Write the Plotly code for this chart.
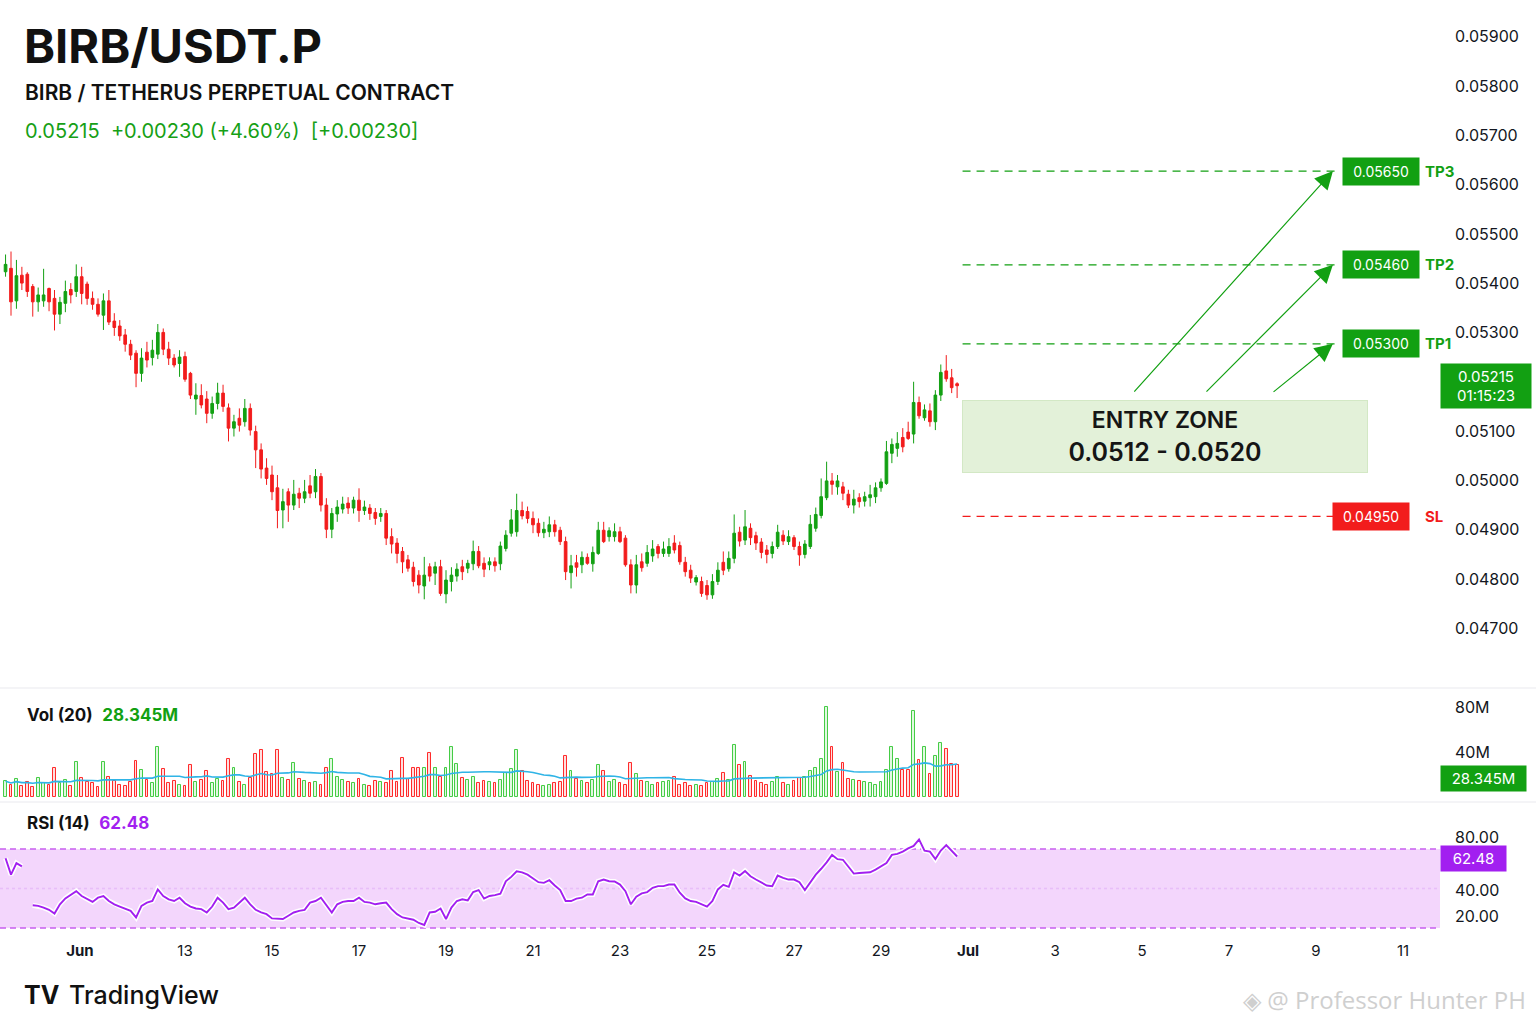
import pandas as pd
import plotly.graph_objects as go
from plotly.subplots import make_subplots

# 3h candles, BIRB/USDT perpetual
start_time = "2025-06-08 21:00"

opens = [
    0.05446, 0.05453, 0.05387, 0.05439, 0.05441, 0.05416, 0.05385, 0.05387, 0.05412, 0.05392,
    0.05360, 0.05382, 0.05410, 0.05406, 0.05436, 0.05421, 0.05392, 0.05380, 0.05358, 0.05387,
    0.05346, 0.05336, 0.05318, 0.05299, 0.05281, 0.05240, 0.05283, 0.05272, 0.05279, 0.05323,
    0.05289, 0.05271, 0.05260, 0.05274, 0.05240, 0.05188, 0.05195, 0.05188, 0.05159, 0.05179,
    0.05200, 0.05170, 0.05129, 0.05149, 0.05142, 0.05169, 0.05122, 0.05085, 0.05048, 0.05034,
    0.05008, 0.04963, 0.05000, 0.04973, 0.04997, 0.04987, 0.05012, 0.05000, 0.05031, 0.04973,
    0.04924, 0.04955, 0.04965, 0.04977, 0.04967, 0.04983, 0.04962, 0.04967, 0.04958, 0.04950,
    0.04956, 0.04909, 0.04896, 0.04879, 0.04862, 0.04847, 0.04831, 0.04809, 0.04848, 0.04835,
    0.04848, 0.04793, 0.04818, 0.04829, 0.04848, 0.04845, 0.04854, 0.04879, 0.04855, 0.04852,
    0.04858, 0.04854, 0.04885, 0.04916, 0.04919, 0.04962, 0.04960, 0.04946, 0.04936, 0.04917,
    0.04919, 0.04933, 0.04922, 0.04899, 0.04836, 0.04856, 0.04852, 0.04867, 0.04854, 0.04875,
    0.04922, 0.04909, 0.04909, 0.04919, 0.04906, 0.04852, 0.04811, 0.04858, 0.04855, 0.04870,
    0.04889, 0.04875, 0.04875, 0.04896, 0.04891, 0.04857, 0.04841, 0.04817, 0.04818, 0.04810,
    0.04791, 0.04818, 0.04857, 0.04844, 0.04865, 0.04918, 0.04902, 0.04926, 0.04911, 0.04898,
    0.04882, 0.04875, 0.04889, 0.04912, 0.04899, 0.04907, 0.04889, 0.04873, 0.04889, 0.04926,
    0.04952, 0.04988, 0.05022, 0.05010, 0.05010, 0.04995, 0.04973, 0.04988, 0.04981, 0.04988,
    0.04990, 0.05008, 0.05017, 0.05078, 0.05088, 0.05110, 0.05121, 0.05117, 0.05181, 0.05150,
    0.05164, 0.05142, 0.05196, 0.05245, 0.05231, 0.05219,
]

highs = [
    0.05481, 0.05487, 0.05470, 0.05456, 0.05445, 0.05421, 0.05414, 0.05452, 0.05414, 0.05409,
    0.05395, 0.05428, 0.05423, 0.05461, 0.05456, 0.05426, 0.05406, 0.05392, 0.05402, 0.05409,
    0.05362, 0.05348, 0.05330, 0.05308, 0.05287, 0.05291, 0.05304, 0.05308, 0.05340, 0.05331,
    0.05304, 0.05279, 0.05287, 0.05284, 0.05243, 0.05220, 0.05218, 0.05204, 0.05193, 0.05221,
    0.05217, 0.05179, 0.05156, 0.05169, 0.05188, 0.05179, 0.05134, 0.05098, 0.05068, 0.05053,
    0.05034, 0.05006, 0.05007, 0.05024, 0.05008, 0.05024, 0.05034, 0.05046, 0.05038, 0.04987,
    0.04967, 0.04983, 0.04990, 0.04989, 0.04990, 0.05007, 0.04982, 0.04975, 0.04967, 0.04967,
    0.04963, 0.04926, 0.04906, 0.04888, 0.04872, 0.04858, 0.04841, 0.04868, 0.04855, 0.04858,
    0.04862, 0.04841, 0.04847, 0.04855, 0.04862, 0.04862, 0.04901, 0.04890, 0.04867, 0.04867,
    0.04867, 0.04899, 0.04922, 0.04965, 0.04996, 0.04980, 0.04970, 0.04960, 0.04946, 0.04939,
    0.04950, 0.04943, 0.04929, 0.04909, 0.04872, 0.04872, 0.04879, 0.04875, 0.04889, 0.04939,
    0.04939, 0.04928, 0.04936, 0.04929, 0.04912, 0.04863, 0.04872, 0.04875, 0.04892, 0.04902,
    0.04894, 0.04899, 0.04906, 0.04912, 0.04899, 0.04868, 0.04852, 0.04831, 0.04828, 0.04821,
    0.04833, 0.04857, 0.04879, 0.04879, 0.04954, 0.04929, 0.04963, 0.04936, 0.04919, 0.04906,
    0.04892, 0.04899, 0.04933, 0.04922, 0.04922, 0.04912, 0.04899, 0.04902, 0.04953, 0.04968,
    0.05027, 0.05061, 0.05038, 0.05034, 0.05020, 0.05004, 0.05004, 0.04997, 0.05000, 0.05014,
    0.05019, 0.05027, 0.05103, 0.05108, 0.05121, 0.05129, 0.05142, 0.05223, 0.05193, 0.05177,
    0.05179, 0.05206, 0.05258, 0.05277, 0.05249, 0.05222,
]

lows = [
    0.05436, 0.05357, 0.05371, 0.05409, 0.05395, 0.05355, 0.05365, 0.05375, 0.05366, 0.05327,
    0.05340, 0.05364, 0.05382, 0.05395, 0.05380, 0.05379, 0.05369, 0.05355, 0.05328, 0.05338,
    0.05316, 0.05306, 0.05284, 0.05267, 0.05212, 0.05223, 0.05252, 0.05256, 0.05269, 0.05277,
    0.05257, 0.05252, 0.05233, 0.05223, 0.05188, 0.05156, 0.05169, 0.05139, 0.05148, 0.05167,
    0.05162, 0.05102, 0.05112, 0.05122, 0.05132, 0.05114, 0.05048, 0.05027, 0.05014, 0.04983,
    0.04926, 0.04926, 0.04939, 0.04963, 0.04967, 0.04977, 0.04987, 0.04987, 0.04960, 0.04906,
    0.04906, 0.04939, 0.04956, 0.04955, 0.04956, 0.04939, 0.04953, 0.04943, 0.04933, 0.04939,
    0.04892, 0.04875, 0.04855, 0.04835, 0.04838, 0.04808, 0.04794, 0.04782, 0.04818, 0.04811,
    0.04789, 0.04774, 0.04798, 0.04818, 0.04821, 0.04835, 0.04841, 0.04845, 0.04827, 0.04841,
    0.04838, 0.04841, 0.04879, 0.04909, 0.04909, 0.04944, 0.04936, 0.04916, 0.04909, 0.04906,
    0.04908, 0.04909, 0.04892, 0.04821, 0.04804, 0.04828, 0.04835, 0.04852, 0.04838, 0.04872,
    0.04896, 0.04899, 0.04899, 0.04896, 0.04848, 0.04794, 0.04794, 0.04838, 0.04848, 0.04858,
    0.04865, 0.04868, 0.04868, 0.04875, 0.04852, 0.04828, 0.04815, 0.04810, 0.04787, 0.04781,
    0.04783, 0.04811, 0.04831, 0.04838, 0.04855, 0.04889, 0.04892, 0.04892, 0.04882, 0.04865,
    0.04855, 0.04865, 0.04884, 0.04892, 0.04892, 0.04882, 0.04850, 0.04865, 0.04884, 0.04919,
    0.04946, 0.04983, 0.04994, 0.04994, 0.04983, 0.04967, 0.04956, 0.04968, 0.04970, 0.04970,
    0.04977, 0.05000, 0.05014, 0.05058, 0.05071, 0.05080, 0.05105, 0.05098, 0.05148, 0.05144,
    0.05132, 0.05125, 0.05184, 0.05223, 0.05200, 0.05190,
]

closes = [
    0.05461, 0.05385, 0.05438, 0.05423, 0.05406, 0.05385, 0.05399, 0.05399, 0.05385, 0.05360,
    0.05384, 0.05406, 0.05399, 0.05436, 0.05402, 0.05392, 0.05380, 0.05360, 0.05387, 0.05344,
    0.05333, 0.05316, 0.05299, 0.05277, 0.05240, 0.05271, 0.05267, 0.05287, 0.05323, 0.05289,
    0.05271, 0.05257, 0.05273, 0.05228, 0.05196, 0.05196, 0.05176, 0.05159, 0.05179, 0.05200,
    0.05173, 0.05129, 0.05142, 0.05135, 0.05169, 0.05125, 0.05085, 0.05046, 0.05027, 0.05000,
    0.04962, 0.04980, 0.04973, 0.04995, 0.04987, 0.05000, 0.04997, 0.05031, 0.04973, 0.04924,
    0.04956, 0.04969, 0.04975, 0.04967, 0.04983, 0.04962, 0.04969, 0.04956, 0.04946, 0.04956,
    0.04906, 0.04894, 0.04875, 0.04858, 0.04845, 0.04818, 0.04811, 0.04831, 0.04829, 0.04848,
    0.04794, 0.04821, 0.04831, 0.04843, 0.04838, 0.04855, 0.04879, 0.04850, 0.04843, 0.04858,
    0.04850, 0.04890, 0.04912, 0.04943, 0.04962, 0.04951, 0.04946, 0.04933, 0.04917, 0.04924,
    0.04933, 0.04919, 0.04899, 0.04838, 0.04850, 0.04847, 0.04867, 0.04855, 0.04877, 0.04922,
    0.04899, 0.04921, 0.04919, 0.04899, 0.04852, 0.04811, 0.04852, 0.04846, 0.04877, 0.04884,
    0.04875, 0.04884, 0.04889, 0.04882, 0.04858, 0.04838, 0.04825, 0.04826, 0.04794, 0.04791,
    0.04818, 0.04841, 0.04841, 0.04865, 0.04916, 0.04900, 0.04929, 0.04907, 0.04896, 0.04877,
    0.04873, 0.04889, 0.04918, 0.04900, 0.04909, 0.04889, 0.04872, 0.04894, 0.04934, 0.04954,
    0.04990, 0.05022, 0.05015, 0.05022, 0.04997, 0.04973, 0.04985, 0.04980, 0.04990, 0.04994,
    0.05008, 0.05020, 0.05081, 0.05096, 0.05098, 0.05091, 0.05108, 0.05181, 0.05154, 0.05166,
    0.05142, 0.05196, 0.05242, 0.05229, 0.05211, 0.05215,
]

# volume in millions
volume_m = [
    14, 11, 16, 10, 13, 9, 17, 12, 11, 26,
    12, 15, 10, 31, 17, 13, 12, 9, 31, 18,
    14, 11, 10, 13, 32, 24, 15, 12, 44, 25,
    12, 14, 11, 10, 28, 13, 15, 23, 12, 16,
    14, 34, 26, 13, 11, 17, 38, 42, 22, 20,
    42, 17, 15, 30, 16, 14, 12, 13, 11, 26,
    34, 18, 15, 13, 12, 16, 11, 10, 14, 13,
    12, 23, 13, 35, 16, 26, 26, 26, 39, 26,
    18, 26, 44, 29, 17, 15, 18, 12, 14, 13,
    12, 15, 21, 25, 42, 23, 14, 12, 11, 10,
    11, 12, 13, 36, 23, 16, 14, 12, 15, 28,
    23, 13, 15, 12, 11, 30, 20, 14, 13, 11,
    12, 13, 14, 18, 11, 12, 10, 11, 10, 12,
    13, 16, 21, 15, 46, 28, 31, 19, 14, 12,
    11, 13, 18, 12, 11, 14, 17, 18, 23, 26,
    34, 80, 44, 22, 30, 16, 15, 14, 13, 12,
    11, 13, 24, 44, 34, 24, 24, 76, 33, 44,
    20, 36, 48, 43, 29, 28.345,
]

rsi = [
    73.0, 60.5, 69.3, 66.8, None, 37.3, 36.8, 35.5, 33.8, 31.0,
    38.0, 42.5, 45.5, 48.0, 44.3, 41.8, 39.8, 43.0, 44.3, 40.5,
    38.0, 36.3, 34.8, 33.0, 28.0, 36.8, 39.3, 40.5, 49.3, 44.3,
    41.8, 40.5, 43.0, 38.8, 36.3, 34.8, 34.3, 31.8, 36.3, 43.0,
    39.3, 34.3, 35.5, 39.3, 43.0, 38.0, 33.8, 31.8, 30.5, 27.3,
    26.8, 26.8, 29.3, 31.8, 33.0, 33.8, 39.3, 40.5, 43.0, 37.3,
    31.8, 38.0, 39.8, 40.5, 40.5, 43.0, 39.8, 39.3, 38.0, 38.8,
    39.3, 34.3, 30.5, 28.0, 27.3, 26.3, 23.8, 22.3, 31.8, 32.3,
    34.8, 26.8, 35.5, 40.5, 41.8, 41.0, 47.3, 48.8, 42.3, 44.3,
    45.0, 46.0, 55.5, 58.8, 63.0, 62.3, 60.5, 57.5, 54.8, 54.3,
    56.3, 52.3, 48.8, 40.5, 40.5, 42.3, 43.0, 45.5, 45.5, 55.5,
    56.8, 55.5, 55.3, 53.0, 48.0, 38.0, 43.8, 46.3, 47.3, 50.5,
    51.8, 51.8, 53.0, 53.0, 46.8, 42.5, 40.5, 39.8, 38.0, 36.3,
    40.5, 49.3, 52.8, 51.3, 62.3, 59.8, 63.3, 59.3, 56.8, 54.3,
    52.3, 51.8, 59.8, 58.0, 56.8, 56.8, 54.8, 48.8, 54.3, 60.5,
    65.0, 69.8, 75.5, 72.3, 71.8, 66.8, 61.3, 61.8, 62.3, 62.3,
    64.3, 66.8, 69.3, 75.5, 76.3, 78.0, 80.5, 82.3, 87.3, 78.8,
    78.0, 72.3, 78.8, 83.0, 78.8, 74.3,
]
rsi_last = 62.48

# trade plan
level_names = ["TP3", "TP2", "TP1", "SL"]
level_values = [0.05650, 0.05460, 0.05300, 0.04950]
entry_low, entry_high = 0.0512, 0.0520
last_price = 0.05215

# axis labels (0.05200 sits under the price tag)
price_ticks = [0.047, 0.048, 0.049, 0.050, 0.051, 0.053, 0.054, 0.055, 0.056, 0.057, 0.058, 0.059]
tick_dates = ["2025-06-10 14:00", "2025-06-13", "2025-06-15", "2025-06-17", "2025-06-19",
              "2025-06-21", "2025-06-23", "2025-06-25", "2025-06-27", "2025-06-29",
              "2025-07-01", "2025-07-03", "2025-07-05", "2025-07-07", "2025-07-09", "2025-07-11"]
tick_text = ["<b>Jun</b>", "13", "15", "17", "19", "21", "23", "25", "27", "29",
             "<b>Jul</b>", "3", "5", "7", "9", "11"]

GREEN = "#12a012"
RED = "#f21c1c"
PURPLE = "#a21ff0"
TEXT = "#131722"
FONT = "Inter"

times = pd.date_range(start_time, periods=len(closes), freq="3h")
is_up = [c >= o for o, c in zip(opens, closes)]
vol_ma = pd.Series(volume_m).rolling(20, min_periods=1).mean()

fig = make_subplots(rows=3, cols=1, shared_xaxes=True, vertical_spacing=0.005)

fig.add_trace(go.Candlestick(
    x=times, open=opens, high=highs, low=lows, close=closes,
    increasing=dict(line=dict(color=GREEN, width=1), fillcolor=GREEN),
    decreasing=dict(line=dict(color=RED, width=1), fillcolor=RED),
    whiskerwidth=0, showlegend=False, hoverinfo="skip"), row=1, col=1)

fig.add_trace(go.Bar(
    x=times, y=volume_m, width=5.6e6,
    marker=dict(color=["rgba(90,215,90,0.18)" if u else "rgba(255,70,70,0.18)" for u in is_up],
                line=dict(color=["#45cc45" if u else "#ff2b2b" for u in is_up], width=1)),
    showlegend=False, hoverinfo="skip"), row=2, col=1)
fig.add_trace(go.Scatter(x=times, y=vol_ma, mode="lines", line=dict(color="#2fb4e6", width=1.6),
                         showlegend=False, hoverinfo="skip"), row=2, col=1)

# rsi band
fig.add_shape(type="rect", xref="x3 domain", yref="y3", x0=0, x1=1, y0=20, y1=80,
              fillcolor="rgba(214,120,246,0.30)", line_width=0, layer="below")
for lvl, dash, col in [(80, "6px,4px", "#c95ff0"), (20, "6px,4px", "#c95ff0"),
                       (50, "dot", "rgba(200,120,240,0.25)")]:
    fig.add_shape(type="line", xref="x3 domain", yref="y3", x0=0, x1=1, y0=lvl, y1=lvl,
                  line=dict(color=col, width=1.3, dash=dash), layer="below")

fig.add_trace(go.Scatter(x=times, y=rsi, mode="lines", line=dict(color="white", width=5),
                         connectgaps=False, showlegend=False, hoverinfo="skip"), row=3, col=1)
fig.add_trace(go.Scatter(x=times, y=rsi, mode="lines", line=dict(color=PURPLE, width=1.9),
                         connectgaps=False, showlegend=False, hoverinfo="skip"), row=3, col=1)

# trade levels
line_start, line_end = "2025-06-30 21:00", "2025-07-09 13:00"
arrow_tails = {"TP3": "2025-07-04 19:00", "TP2": "2025-07-06 10:45", "TP1": "2025-07-07 23:45"}
annotations = []
for name, val in zip(level_names, level_values):
    col = RED if name == "SL" else GREEN
    fig.add_shape(type="line", xref="x", yref="y", x0=line_start, x1=line_end, y0=val, y1=val,
                  line=dict(color=col, width=1.3, dash="8px,6px"))
    box_x = "2025-07-10 06:30" if name == "SL" else "2025-07-10 12:00"
    annotations.append(dict(x=box_x, y=val, xref="x", yref="y", text=f"{val:.5f}", showarrow=False,
                            bgcolor=col, font=dict(color="white", size=14, family=FONT),
                            borderpad=5, width=66))
    annotations.append(dict(x="2025-07-11 11:00", y=val, xref="x", yref="y", text=f"<b>{name}</b>",
                            showarrow=False, xanchor="left", font=dict(color=col, size=15, family=FONT)))
    if name in arrow_tails:
        annotations.append(dict(x="2025-07-09 09:20", y=val, xref="x", yref="y",
                                ax=arrow_tails[name], ay=entry_high, axref="x", ayref="y",
                                showarrow=True, arrowhead=2, arrowsize=3, arrowwidth=1.2,
                                arrowcolor=GREEN, text=""))

annotations.append(dict(
    x="2025-07-05 12:40", y=entry_low, xref="x", yref="y", showarrow=False, yshift=-4,
    text=f"<span style='font-size:23px'>ENTRY ZONE</span><br>{entry_low:.4f} - {entry_high:.4f}",
    font=dict(size=25, color="#151515", family=FONT, weight=600),
    bgcolor="#e3f1d9", bordercolor="#d3e8c5", borderwidth=1, borderpad=0,
    width=404, height=71, yanchor="middle"))

# right-side value tags
annotations += [
    dict(x=1.0, y=last_price, xref="paper", yref="y", xanchor="left", showarrow=False,
         text=f"{last_price:.5f}<br>01:15:23", bgcolor=GREEN, borderpad=5, width=80, height=34,
         font=dict(color="white", size=15, family=FONT)),
    dict(x=1.0, y=volume_m[-1], xref="paper", yref="y2", xanchor="left", yanchor="top", showarrow=False,
         text=f"{volume_m[-1]:.3f}M", bgcolor=GREEN, borderpad=3, width=79,
         font=dict(color="white", size=15, family=FONT)),
    dict(x=1.0, y=rsi_last, xref="paper", yref="y3", xanchor="left", yanchor="bottom", showarrow=False,
         text=f"{rsi_last:.2f}", bgcolor=PURPLE, borderpad=3, width=59,
         font=dict(color="white", size=15, family=FONT)),
]

# header and pane labels
annotations += [
    dict(x=0.0153, y=0.952, xref="paper", yref="paper", xanchor="left", yanchor="middle", showarrow=False,
         text="BIRB/USDT.P", font=dict(size=47, color="#111111", family=FONT, weight=700)),
    dict(x=0.016, y=0.902, xref="paper", yref="paper", xanchor="left", yanchor="middle", showarrow=False,
         text="BIRB / TETHERUS PERPETUAL CONTRACT",
         font=dict(size=21, color="#111111", family=FONT, weight=600)),
    dict(x=0.016, y=0.8606, xref="paper", yref="paper", xanchor="left", yanchor="middle", showarrow=False,
         text="0.05215  +0.00230 (+4.60%)  [+0.00230]", font=dict(size=20, color="#16a016", family=FONT)),
    dict(x=0.0174, y=0.2394, xref="paper", yref="paper", xanchor="left", yanchor="middle", showarrow=False,
         text=f"<b>Vol (20)</b>  <b><span style='color:{GREEN}'>{volume_m[-1]:.3f}M</span></b>",
         font=dict(size=17, color="#111111", family=FONT)),
    dict(x=0.0174, y=0.1245, xref="paper", yref="paper", xanchor="left", yanchor="middle", showarrow=False,
         text=f"<b>RSI (14)</b>  <b><span style='color:{PURPLE}'>{rsi_last:.2f}</span></b>",
         font=dict(size=17, color="#111111", family=FONT)),
    dict(x=0.0153, y=-0.0585, xref="paper", yref="paper", xanchor="left", yanchor="middle", showarrow=False,
         text="<b>TV</b>", font=dict(size=25, color="#111111", family=FONT, weight=900)),
    dict(x=0.0465, y=-0.0585, xref="paper", yref="paper", xanchor="left", yanchor="middle", showarrow=False,
         text="TradingView", font=dict(size=25, color="#111111", family=FONT, weight=500)),
    dict(x=1.061, y=-0.0628, xref="paper", yref="paper", xanchor="right", yanchor="middle", showarrow=False,
         text="◈ @ Professor Hunter PH", font=dict(size=24, color="#cfcfcf", family="Open Sans")),
]

# pane separators
for sep in [0.2681, 0.1468]:
    fig.add_shape(type="line", xref="paper", yref="paper", x0=0, x1=1.0667, y0=sep, y1=sep,
                  line=dict(color="#e9e9ee", width=1))

fig.update_layout(
    width=1536, height=1024,
    margin=dict(l=0, r=96, t=0, b=84),
    paper_bgcolor="white", plot_bgcolor="white",
    font=dict(family=FONT, color=TEXT, size=15),
    showlegend=False, bargap=0,
    annotations=annotations,
    yaxis=dict(domain=[0.26809, 1.0], range=[0.046022, 0.059969], side="right",
               tickvals=price_ticks, tickformat=".5f", showgrid=False, zeroline=False,
               ticklabelposition="outside top", ticklabelstandoff=14,
               tickfont=dict(size=16, color=TEXT)),
    yaxis2=dict(domain=[0.14894, 0.26596], range=[-2.67, 95.1], side="right",
                tickvals=[40, 80], ticktext=["40M", "80M"], showgrid=False, zeroline=False,
                ticklabelstandoff=14, tickfont=dict(size=16, color=TEXT)),
    yaxis3=dict(domain=[0.0, 0.14362], range=[10.9, 113.4], side="right",
                tickvals=[20, 40, 80], ticktext=["20.00", "40.00", "80.00"], showgrid=False,
                zeroline=False, ticklabelposition="outside top", ticklabelstandoff=14,
                tickfont=dict(size=16, color=TEXT)),
)
fig.update_xaxes(range=["2025-06-08 17:56", "2025-07-11 20:25"], showgrid=False, zeroline=False,
                 rangeslider_visible=False, showline=False)
fig.update_xaxes(tickvals=tick_dates, ticktext=tick_text, tickfont=dict(size=15, color=TEXT),
                 row=3, col=1)

# drop the default page margin so the figure sits flush in the window
fig.write_html("out.html", config={"displayModeBar": False},
               post_script="document.body.style.margin='0px';")
